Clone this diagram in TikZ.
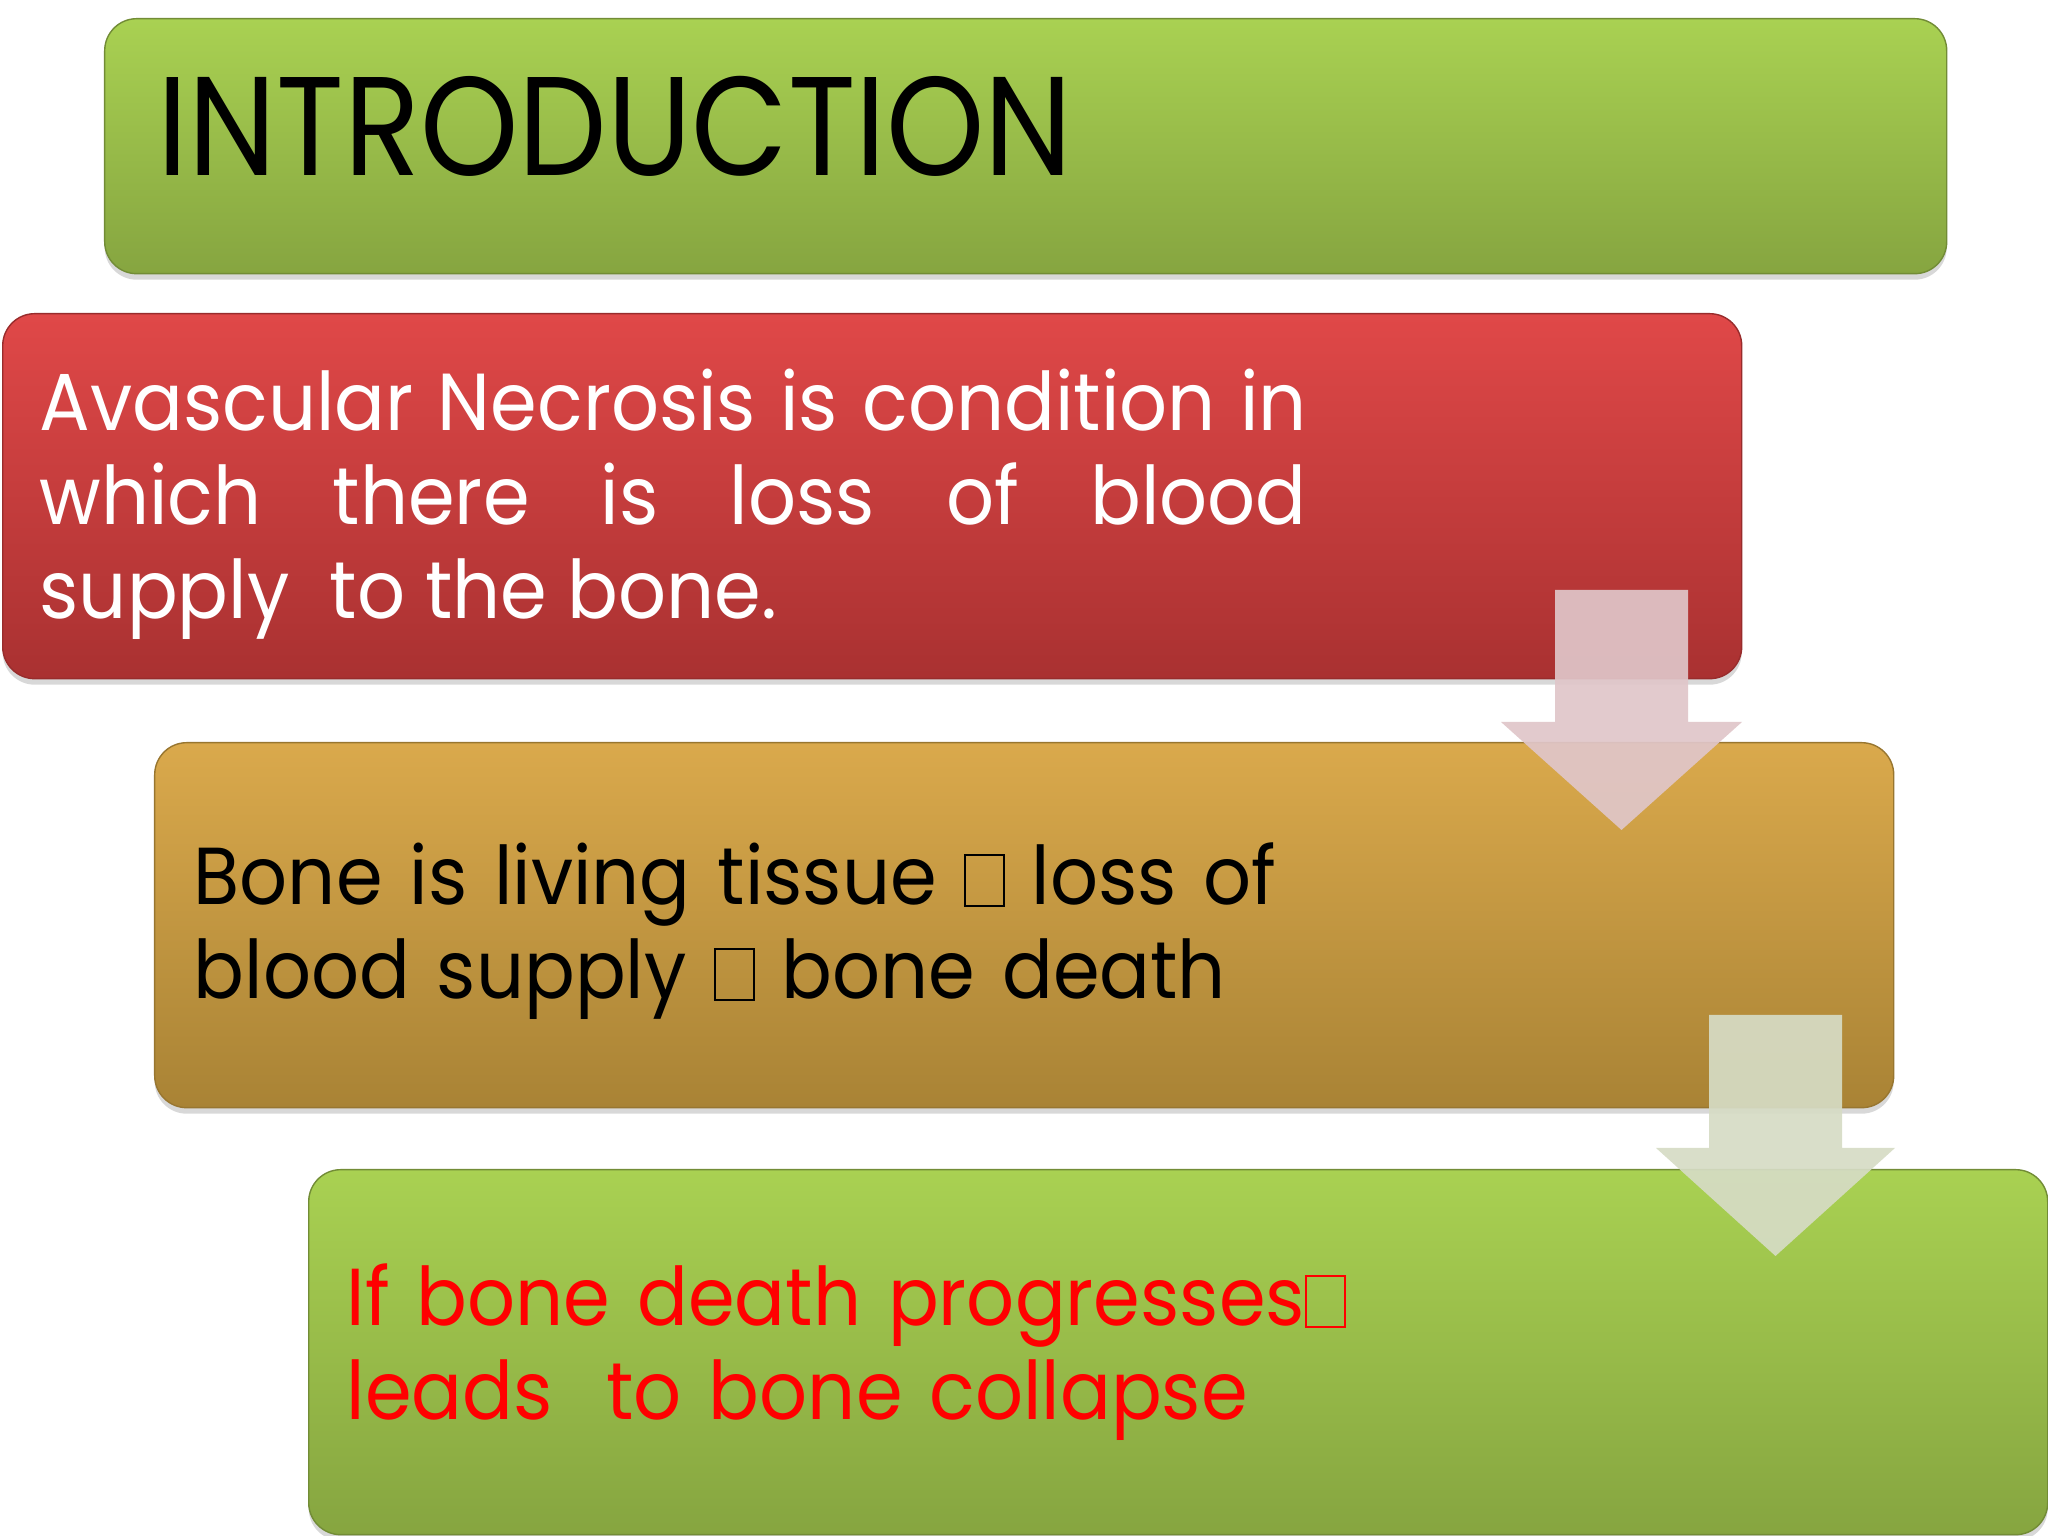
\documentclass[tikz,border=0pt]{standalone}
\usepackage{fontspec}
\setmainfont{Poppins}[FakeStretch=0.93]
\newfontfamily\headfont{Poppins}[FakeStretch=0.89]
\usetikzlibrary{shadows}

\definecolor{leafgreen}{HTML}{A9D152}
\definecolor{leafdark}{HTML}{86A540}
\definecolor{bloodred}{HTML}{E04848}
\definecolor{blooddark}{HTML}{A93131}
\definecolor{ochre}{HTML}{DAA94C}
\definecolor{ochredark}{HTML}{A98335}
\definecolor{pinkarrow}{HTML}{E0C6C9}
\definecolor{sagearrow}{HTML}{D6DCC5}

% empty box for the glyph the slide font did not have
\newcommand{\nochar}{{\setlength\fboxsep{0pt}\setlength\fboxrule{0.6pt}\fbox{\rule{0pt}{14pt}\hspace{10.5pt}}}}

\tikzset{
  slab/.style={rectangle, rounded corners=0.32cm, inner sep=0pt, anchor=north west,
    minimum width=17.39cm, minimum height=3.65cm,
    drop shadow={opacity=0.3, shadow xshift=0pt, shadow yshift=-0.06cm}},
  bodytext/.style={anchor=base west, inner sep=0pt, font=\fontsize{23}{26.7}\selectfont},
  flowarrow/.style={fill opacity=0.92}
}

\begin{document}
\begin{tikzpicture}
      \fill[white] (0,0) rectangle (20.48,15.36);
      \useasboundingbox (0,0) rectangle (20.48,15.36);

      % boxes
      \node[slab, minimum width=18.42cm, minimum height=2.55cm, top color=leafgreen,
      bottom color=leafdark, draw=leafdark!85!black] (intro) at (1.04,15.18) {};
      \node[slab, top color=bloodred, bottom color=blooddark,
      draw=blooddark!90!black] (necrosis) at (0.02,12.23) {};
      \node[slab, top color=ochre, bottom color=ochredark,
      draw=ochredark!90!black] (tissue) at (1.54,7.94) {};
      \node[slab, top color=leafgreen, bottom color=leafdark,
      draw=leafdark!85!black] (collapse) at (3.08,3.67) {};

      % texts
      \node[anchor=base west, inner sep=0pt, font=\headfont\fontsize{40}{40}\selectfont]
      (introtext) at (1.57,13.60) {INTRODUCTION};
      \node[bodytext, text=white, text width=12.67cm, align=justify] (necrosistext)
      at (0.39,11.05) {Avascular Necrosis is condition in\linebreak which there is
      loss of blood\linebreak supply\ \ to the bone.};
      \node[bodytext, text width=12cm, align=left] (tissuetext) at (1.93,6.31)
      {Bone is living tissue \nochar{} loss of\\ blood supply \nochar{} bone death};
      \node[bodytext, text width=12cm, align=left, text=red] (collapsetext) at (3.46,2.10)
      {If bone death progresses\nochar\\ leads\ \ to bone collapse};

      % block arrows
      \coordinate (a1) at (16.215,9.46);
      \coordinate (a2) at (17.755,5.21);
      \fill[pinkarrow, flowarrow] (a1) ++(-0.665,0) -- ++(1.33,0) -- ++(0,-1.32)
      -- ++(0.54,0) -- ++(-1.205,-1.08) -- ++(-1.205,1.08) -- ++(0.54,0) -- cycle;
      \fill[sagearrow, flowarrow] (a2) ++(-0.665,0) -- ++(1.33,0) -- ++(0,-1.33)
      -- ++(0.53,0) -- ++(-1.195,-1.08) -- ++(-1.195,1.08) -- ++(0.53,0) -- cycle;
\end{tikzpicture}
\end{document}
